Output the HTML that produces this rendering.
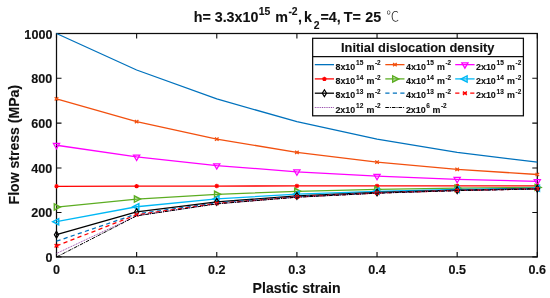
<!DOCTYPE html>
<html><head><meta charset="utf-8"><title>Flow stress vs plastic strain</title>
<style>html,body{margin:0;padding:0;background:#fff}svg{display:block}</style></head>
<body>
<svg width="550" height="298" viewBox="0 0 550 298">
<rect width="550" height="298" fill="#fff"/>
<rect x="56.5" y="33.5" width="480.80" height="223.40" fill="none" stroke="#0d0d0d" stroke-width="1.25"/>
<path d="M56.50 256.9v-5.0M56.50 33.5v5.0M136.63 256.9v-5.0M136.63 33.5v5.0M216.77 256.9v-5.0M216.77 33.5v5.0M296.90 256.9v-5.0M296.90 33.5v5.0M377.03 256.9v-5.0M377.03 33.5v5.0M457.17 256.9v-5.0M457.17 33.5v5.0M537.30 256.9v-5.0M537.30 33.5v5.0M56.5 256.90h5.0M537.3 256.90h-5.0M56.5 212.50h5.0M537.3 212.50h-5.0M56.5 168.00h5.0M537.3 168.00h-5.0M56.5 123.10h5.0M537.3 123.10h-5.0M56.5 78.20h5.0M537.3 78.20h-5.0M56.5 33.50h5.0M537.3 33.50h-5.0" stroke="#0d0d0d" stroke-width="1.1" fill="none"/>
<polyline points="56.50,33.50 136.63,70.02 216.77,98.96 296.90,121.62 377.03,139.11 457.17,152.36 537.30,162.21" fill="none" stroke="#0072BD" stroke-width="1.28" stroke-linejoin="round"/>
<polyline points="56.50,98.96 136.63,121.62 216.77,139.11 296.90,152.36 377.03,162.21 457.17,169.38 537.30,174.50" fill="none" stroke="#F2500F" stroke-width="1.28" stroke-linejoin="round"/>
<path d="M54.70 97.34L58.30 100.58M54.70 100.58L58.30 97.34" stroke="#F2500F" stroke-width="1.3" fill="none"/>
<path d="M134.83 120.00L138.43 123.24M134.83 123.24L138.43 120.00" stroke="#F2500F" stroke-width="1.3" fill="none"/>
<path d="M214.97 137.49L218.57 140.73M214.97 140.73L218.57 137.49" stroke="#F2500F" stroke-width="1.3" fill="none"/>
<path d="M295.10 150.74L298.70 153.98M295.10 153.98L298.70 150.74" stroke="#F2500F" stroke-width="1.3" fill="none"/>
<path d="M375.23 160.59L378.83 163.83M375.23 163.83L378.83 160.59" stroke="#F2500F" stroke-width="1.3" fill="none"/>
<path d="M455.37 167.76L458.97 171.00M455.37 171.00L458.97 167.76" stroke="#F2500F" stroke-width="1.3" fill="none"/>
<path d="M535.50 172.88L539.10 176.12M535.50 176.12L539.10 172.88" stroke="#F2500F" stroke-width="1.3" fill="none"/>
<polyline points="56.50,145.25 136.63,156.95 216.77,165.57 296.90,171.79 377.03,176.20 457.17,179.27 537.30,181.39" fill="none" stroke="#FF00FF" stroke-width="1.28" stroke-linejoin="round"/>
<path d="M53.40 143.45H59.60L56.50 148.75Z" stroke="#FF00FF" stroke-width="1.25" fill="none"/>
<path d="M133.53 155.15H139.73L136.63 160.45Z" stroke="#FF00FF" stroke-width="1.25" fill="none"/>
<path d="M213.67 163.77H219.87L216.77 169.07Z" stroke="#FF00FF" stroke-width="1.25" fill="none"/>
<path d="M293.80 169.99H300.00L296.90 175.29Z" stroke="#FF00FF" stroke-width="1.25" fill="none"/>
<path d="M373.93 174.40H380.13L377.03 179.70Z" stroke="#FF00FF" stroke-width="1.25" fill="none"/>
<path d="M454.07 177.47H460.27L457.17 182.77Z" stroke="#FF00FF" stroke-width="1.25" fill="none"/>
<path d="M534.20 179.59H540.40L537.30 184.89Z" stroke="#FF00FF" stroke-width="1.25" fill="none"/>
<polyline points="56.50,186.32 136.63,186.15 216.77,186.03 296.90,185.95 377.03,185.90 457.17,185.86 537.30,185.84" fill="none" stroke="#FF0000" stroke-width="1.28" stroke-linejoin="round"/>
<path d="M54.30 186.32H58.70M56.50 184.12V188.52M54.90 184.72L58.10 187.92M54.90 187.92L58.10 184.72" stroke="#FF0000" stroke-width="1.1" fill="none"/>
<path d="M134.43 186.15H138.83M136.63 183.95V188.35M135.03 184.55L138.23 187.75M135.03 187.75L138.23 184.55" stroke="#FF0000" stroke-width="1.1" fill="none"/>
<path d="M214.57 186.03H218.97M216.77 183.83V188.23M215.17 184.43L218.37 187.63M215.17 187.63L218.37 184.43" stroke="#FF0000" stroke-width="1.1" fill="none"/>
<path d="M294.70 185.95H299.10M296.90 183.75V188.15M295.30 184.35L298.50 187.55M295.30 187.55L298.50 184.35" stroke="#FF0000" stroke-width="1.1" fill="none"/>
<path d="M374.83 185.90H379.23M377.03 183.70V188.10M375.43 184.30L378.63 187.50M375.43 187.50L378.63 184.30" stroke="#FF0000" stroke-width="1.1" fill="none"/>
<path d="M454.97 185.86H459.37M457.17 183.66V188.06M455.57 184.26L458.77 187.46M455.57 187.46L458.77 184.26" stroke="#FF0000" stroke-width="1.1" fill="none"/>
<path d="M535.10 185.84H539.50M537.30 183.64V188.04M535.70 184.24L538.90 187.44M535.70 187.44L538.90 184.24" stroke="#FF0000" stroke-width="1.1" fill="none"/>
<polyline points="56.50,207.02 136.63,199.06 216.77,194.32 296.90,191.35 377.03,189.44 457.17,188.20 537.30,187.39" fill="none" stroke="#5CAD22" stroke-width="1.28" stroke-linejoin="round"/>
<path d="M54.30 203.97V210.07L60.30 207.02Z" stroke="#5CAD22" stroke-width="1.45" fill="none"/>
<path d="M134.43 196.01V202.11L140.43 199.06Z" stroke="#5CAD22" stroke-width="1.45" fill="none"/>
<path d="M214.57 191.27V197.37L220.57 194.32Z" stroke="#5CAD22" stroke-width="1.45" fill="none"/>
<path d="M294.70 188.30V194.40L300.70 191.35Z" stroke="#5CAD22" stroke-width="1.45" fill="none"/>
<path d="M374.83 186.39V192.49L380.83 189.44Z" stroke="#5CAD22" stroke-width="1.45" fill="none"/>
<path d="M454.97 185.15V191.25L460.97 188.20Z" stroke="#5CAD22" stroke-width="1.45" fill="none"/>
<path d="M535.10 184.34V190.44L541.10 187.39Z" stroke="#5CAD22" stroke-width="1.45" fill="none"/>
<polyline points="56.50,221.66 136.63,206.75 216.77,198.90 296.90,194.22 377.03,191.29 457.17,189.40 537.30,188.18" fill="none" stroke="#00B8F5" stroke-width="1.28" stroke-linejoin="round"/>
<path d="M58.70 218.61V224.71L52.70 221.66Z" stroke="#00B8F5" stroke-width="1.45" fill="none"/>
<path d="M138.83 203.70V209.80L132.83 206.75Z" stroke="#00B8F5" stroke-width="1.45" fill="none"/>
<path d="M218.97 195.85V201.95L212.97 198.90Z" stroke="#00B8F5" stroke-width="1.45" fill="none"/>
<path d="M299.10 191.17V197.27L293.10 194.22Z" stroke="#00B8F5" stroke-width="1.45" fill="none"/>
<path d="M379.23 188.24V194.34L373.23 191.29Z" stroke="#00B8F5" stroke-width="1.45" fill="none"/>
<path d="M459.37 186.35V192.45L453.37 189.40Z" stroke="#00B8F5" stroke-width="1.45" fill="none"/>
<path d="M539.50 185.13V191.23L533.50 188.18Z" stroke="#00B8F5" stroke-width="1.45" fill="none"/>
<polyline points="56.50,234.65 136.63,211.99 216.77,201.84 296.90,196.01 377.03,192.42 457.17,190.13 537.30,188.65" fill="none" stroke="#000000" stroke-width="1.28" stroke-linejoin="round"/>
<path d="M56.50 231.25L58.60 234.65L56.50 238.05L54.40 234.65Z" stroke="#000000" stroke-width="1.2" fill="none"/>
<path d="M136.63 208.59L138.73 211.99L136.63 215.39L134.53 211.99Z" stroke="#000000" stroke-width="1.2" fill="none"/>
<path d="M216.77 198.44L218.87 201.84L216.77 205.24L214.67 201.84Z" stroke="#000000" stroke-width="1.2" fill="none"/>
<path d="M296.90 192.61L299.00 196.01L296.90 199.41L294.80 196.01Z" stroke="#000000" stroke-width="1.2" fill="none"/>
<path d="M377.03 189.02L379.13 192.42L377.03 195.82L374.93 192.42Z" stroke="#000000" stroke-width="1.2" fill="none"/>
<path d="M457.17 186.73L459.27 190.13L457.17 193.53L455.07 190.13Z" stroke="#000000" stroke-width="1.2" fill="none"/>
<path d="M537.30 185.25L539.40 188.65L537.30 192.05L535.20 188.65Z" stroke="#000000" stroke-width="1.2" fill="none"/>
<polyline points="56.50,241.20 136.63,213.87 216.77,202.85 296.90,196.62 377.03,192.80 457.17,190.38 537.30,188.81" fill="none" stroke="#0072BD" stroke-width="1.28" stroke-dasharray="4.2,3.3" stroke-linejoin="round"/>
<polyline points="56.50,245.82 136.63,214.85 216.77,203.36 296.90,196.92 377.03,192.99 457.17,190.50 537.30,188.89" fill="none" stroke="#FF0000" stroke-width="1.28" stroke-dasharray="4.2,3.3" stroke-linejoin="round"/>
<path d="M54.60 244.11L58.40 247.53M54.60 247.53L58.40 244.11" stroke="#FF0000" stroke-width="1.4" fill="none"/>
<path d="M134.73 213.14L138.53 216.56M134.73 216.56L138.53 213.14" stroke="#FF0000" stroke-width="1.4" fill="none"/>
<path d="M214.87 201.65L218.67 205.07M214.87 205.07L218.67 201.65" stroke="#FF0000" stroke-width="1.4" fill="none"/>
<path d="M295.00 195.21L298.80 198.63M295.00 198.63L298.80 195.21" stroke="#FF0000" stroke-width="1.4" fill="none"/>
<path d="M375.13 191.28L378.93 194.70M375.13 194.70L378.93 191.28" stroke="#FF0000" stroke-width="1.4" fill="none"/>
<path d="M455.27 188.79L459.07 192.21M455.27 192.21L459.07 188.79" stroke="#FF0000" stroke-width="1.4" fill="none"/>
<path d="M535.40 187.18L539.20 190.60M535.40 190.60L539.20 187.18" stroke="#FF0000" stroke-width="1.4" fill="none"/>
<polyline points="56.50,253.47 136.63,215.75 216.77,203.83 296.90,197.20 377.03,193.16 457.17,190.61 537.30,188.96" fill="none" stroke="#8A35A0" stroke-width="0.9" stroke-dasharray="1,0.8" stroke-linejoin="round"/>
<polyline points="56.50,257.00 136.63,215.85 216.77,203.88 296.90,197.23 377.03,193.18 457.17,190.62 537.30,188.97" fill="none" stroke="#000000" stroke-width="1.0" stroke-dasharray="3.6,1,1,1" stroke-linejoin="round"/>
<rect x="312.65" y="38.3" width="210.75" height="77.50" fill="#fff" stroke="#0d0d0d" stroke-width="1.25"/>
<path d="M312.65 56.5H523.4" stroke="#0d0d0d" stroke-width="1.25"/>
<path d="M314.8 64.65H334.0" stroke="#0072BD" stroke-width="1.28" fill="none"/>
<path d="M385.3 64.65H404.5" stroke="#F2500F" stroke-width="1.28" fill="none"/>
<path d="M393.10 63.03L396.70 66.27M393.10 66.27L396.70 63.03" stroke="#F2500F" stroke-width="1.3" fill="none"/>
<path d="M455.2 64.65H474.6" stroke="#FF00FF" stroke-width="1.28" fill="none"/>
<path d="M461.80 62.85H468.00L464.90 68.15Z" stroke="#FF00FF" stroke-width="1.25" fill="none"/>
<path d="M314.8 78.9H334.0" stroke="#FF0000" stroke-width="1.28" fill="none"/>
<path d="M322.20 78.90H326.60M324.40 76.70V81.10M322.80 77.30L326.00 80.50M322.80 80.50L326.00 77.30" stroke="#FF0000" stroke-width="1.1" fill="none"/>
<path d="M385.3 78.9H404.5" stroke="#5CAD22" stroke-width="1.28" fill="none"/>
<path d="M392.70 75.85V81.95L398.70 78.90Z" stroke="#5CAD22" stroke-width="1.45" fill="none"/>
<path d="M455.2 78.9H474.6" stroke="#00B8F5" stroke-width="1.28" fill="none"/>
<path d="M467.10 75.85V81.95L461.10 78.90Z" stroke="#00B8F5" stroke-width="1.45" fill="none"/>
<path d="M314.8 93.2H334.0" stroke="#000000" stroke-width="1.28" fill="none"/>
<path d="M324.40 89.80L326.50 93.20L324.40 96.60L322.30 93.20Z" stroke="#000000" stroke-width="1.2" fill="none"/>
<path d="M385.3 93.2H404.5" stroke="#0072BD" stroke-width="1.28" stroke-dasharray="4.2,3.3" fill="none"/>
<path d="M455.2 93.2H474.6" stroke="#FF0000" stroke-width="1.28" stroke-dasharray="4.2,3.3" fill="none"/>
<path d="M463.00 91.49L466.80 94.91M463.00 94.91L466.80 91.49" stroke="#FF0000" stroke-width="1.4" fill="none"/>
<path d="M314.8 107.5H334.0" stroke="#8A35A0" stroke-width="0.9" stroke-dasharray="1,0.8" fill="none"/>
<path d="M385.3 107.5H404.5" stroke="#000000" stroke-width="1.0" stroke-dasharray="3.6,1,1,1" fill="none"/>
<text transform="translate(53.00,274.45) scale(1.2600,1.2400)" font-size="10" font-weight="bold" font-family="'Liberation Sans', sans-serif" fill="#111" stroke="#111" stroke-width="0.096" stroke-linejoin="round">0</text>
<text transform="translate(127.88,274.45) scale(1.2600,1.2400)" font-size="10" font-weight="bold" font-family="'Liberation Sans', sans-serif" fill="#111" stroke="#111" stroke-width="0.096" stroke-linejoin="round">0.1</text>
<text transform="translate(208.01,274.45) scale(1.2600,1.2400)" font-size="10" font-weight="bold" font-family="'Liberation Sans', sans-serif" fill="#111" stroke="#111" stroke-width="0.096" stroke-linejoin="round">0.2</text>
<text transform="translate(288.14,274.45) scale(1.2600,1.2400)" font-size="10" font-weight="bold" font-family="'Liberation Sans', sans-serif" fill="#111" stroke="#111" stroke-width="0.096" stroke-linejoin="round">0.3</text>
<text transform="translate(368.28,274.45) scale(1.2600,1.2400)" font-size="10" font-weight="bold" font-family="'Liberation Sans', sans-serif" fill="#111" stroke="#111" stroke-width="0.096" stroke-linejoin="round">0.4</text>
<text transform="translate(448.41,274.45) scale(1.2600,1.2400)" font-size="10" font-weight="bold" font-family="'Liberation Sans', sans-serif" fill="#111" stroke="#111" stroke-width="0.096" stroke-linejoin="round">0.5</text>
<text transform="translate(528.54,274.45) scale(1.2600,1.2400)" font-size="10" font-weight="bold" font-family="'Liberation Sans', sans-serif" fill="#111" stroke="#111" stroke-width="0.096" stroke-linejoin="round">0.6</text>
<text transform="translate(45.41,262.40) scale(1.2600,1.2400)" font-size="10" font-weight="bold" font-family="'Liberation Sans', sans-serif" fill="#111" stroke="#111" stroke-width="0.096" stroke-linejoin="round">0</text>
<text transform="translate(31.36,217.20) scale(1.2600,1.2400)" font-size="10" font-weight="bold" font-family="'Liberation Sans', sans-serif" fill="#111" stroke="#111" stroke-width="0.096" stroke-linejoin="round">200</text>
<text transform="translate(31.36,172.50) scale(1.2600,1.2400)" font-size="10" font-weight="bold" font-family="'Liberation Sans', sans-serif" fill="#111" stroke="#111" stroke-width="0.096" stroke-linejoin="round">400</text>
<text transform="translate(31.36,127.80) scale(1.2600,1.2400)" font-size="10" font-weight="bold" font-family="'Liberation Sans', sans-serif" fill="#111" stroke="#111" stroke-width="0.096" stroke-linejoin="round">600</text>
<text transform="translate(31.36,83.10) scale(1.2600,1.2400)" font-size="10" font-weight="bold" font-family="'Liberation Sans', sans-serif" fill="#111" stroke="#111" stroke-width="0.096" stroke-linejoin="round">800</text>
<text transform="translate(24.37,38.90) scale(1.2600,1.2400)" font-size="10" font-weight="bold" font-family="'Liberation Sans', sans-serif" fill="#111" stroke="#111" stroke-width="0.096" stroke-linejoin="round">1000</text>
<text transform="translate(252.62,292.50) scale(1.4150,1.4000)" font-size="10" font-weight="bold" font-family="'Liberation Sans', sans-serif" fill="#111" stroke="#111" stroke-width="0.085" stroke-linejoin="round">Plastic strain</text>
<text transform="translate(19.20,204.45) rotate(-90) scale(1.4070,1.4600)" font-size="10" font-weight="bold" font-family="'Liberation Sans', sans-serif" fill="#111" stroke="#111" stroke-width="0.084" stroke-linejoin="round">Flow stress (MPa)</text>
<text transform="translate(193.70,22.00) scale(1.4290,1.3900)" font-size="10" font-weight="bold" font-family="'Liberation Sans', sans-serif" fill="#111" stroke="#111" stroke-width="0.085" stroke-linejoin="round">h= 3.3x10</text>
<text transform="translate(258.82,15.10) scale(1.0400,1.0800)" font-size="10" font-weight="bold" font-family="'Liberation Sans', sans-serif" fill="#111" stroke="#111" stroke-width="0.113" stroke-linejoin="round">15</text>
<text transform="translate(275.17,22.00) scale(1.4290,1.3900)" font-size="10" font-weight="bold" font-family="'Liberation Sans', sans-serif" fill="#111" stroke="#111" stroke-width="0.085" stroke-linejoin="round">m</text>
<text transform="translate(288.38,15.10) scale(1.0400,1.0800)" font-size="10" font-weight="bold" font-family="'Liberation Sans', sans-serif" fill="#111" stroke="#111" stroke-width="0.113" stroke-linejoin="round">-2</text>
<text transform="translate(298.00,22.00) scale(1.4290,1.3900)" font-size="10" font-weight="bold" font-family="'Liberation Sans', sans-serif" fill="#111" stroke="#111" stroke-width="0.085" stroke-linejoin="round">,</text>
<text transform="translate(304.00,22.00) scale(1.4290,1.3900)" font-size="10" font-weight="bold" font-family="'Liberation Sans', sans-serif" fill="#111" stroke="#111" stroke-width="0.085" stroke-linejoin="round">k</text>
<text transform="translate(313.74,28.60) scale(1.0400,1.0800)" font-size="10" font-weight="bold" font-family="'Liberation Sans', sans-serif" fill="#111" stroke="#111" stroke-width="0.113" stroke-linejoin="round">2</text>
<text transform="translate(320.43,22.00) scale(1.4290,1.3900)" font-size="10" font-weight="bold" font-family="'Liberation Sans', sans-serif" fill="#111" stroke="#111" stroke-width="0.085" stroke-linejoin="round">=4,</text>
<text transform="translate(343.76,22.00) scale(1.4290,1.3900)" font-size="10" font-weight="bold" font-family="'Liberation Sans', sans-serif" fill="#111" stroke="#111" stroke-width="0.085" stroke-linejoin="round">T=</text>
<text transform="translate(365.30,22.00) scale(1.4290,1.3900)" font-size="10" font-weight="bold" font-family="'Liberation Sans', sans-serif" fill="#111" stroke="#111" stroke-width="0.085" stroke-linejoin="round">25</text>
<text transform="translate(386.13,21.10) scale(1.2900,1.3900)" font-size="10" font-weight="300" font-family="'Liberation Sans', 'Noto Sans CJK SC', sans-serif" fill="#222">℃</text>
<text transform="translate(340.96,52.45) scale(1.2860,1.2400)" font-size="10" font-weight="bold" font-family="'Liberation Sans', sans-serif" fill="#111" stroke="#111" stroke-width="0.095" stroke-linejoin="round">Initial dislocation density</text>
<text transform="translate(335.43,69.75) scale(0.8900,0.9300)" font-size="10" font-weight="bold" font-family="'Liberation Sans', sans-serif" fill="#111" stroke="#111" stroke-width="0.132" stroke-linejoin="round">8x10</text>
<text transform="translate(355.97,65.35) scale(0.6600,0.7300)" font-size="10" font-weight="bold" font-family="'Liberation Sans', sans-serif" fill="#111" stroke="#111" stroke-width="0.144" stroke-linejoin="round">15</text>
<text transform="translate(366.42,69.75) scale(0.8900,0.9300)" font-size="10" font-weight="bold" font-family="'Liberation Sans', sans-serif" fill="#111" stroke="#111" stroke-width="0.132" stroke-linejoin="round">m</text>
<text transform="translate(374.94,65.35) scale(0.6400,0.7300)" font-size="10" font-weight="bold" font-family="'Liberation Sans', sans-serif" fill="#111" stroke="#111" stroke-width="0.146" stroke-linejoin="round">-2</text>
<text transform="translate(406.07,69.75) scale(0.8900,0.9300)" font-size="10" font-weight="bold" font-family="'Liberation Sans', sans-serif" fill="#111" stroke="#111" stroke-width="0.132" stroke-linejoin="round">4x10</text>
<text transform="translate(426.47,65.35) scale(0.6600,0.7300)" font-size="10" font-weight="bold" font-family="'Liberation Sans', sans-serif" fill="#111" stroke="#111" stroke-width="0.144" stroke-linejoin="round">15</text>
<text transform="translate(436.92,69.75) scale(0.8900,0.9300)" font-size="10" font-weight="bold" font-family="'Liberation Sans', sans-serif" fill="#111" stroke="#111" stroke-width="0.132" stroke-linejoin="round">m</text>
<text transform="translate(445.44,65.35) scale(0.6400,0.7300)" font-size="10" font-weight="bold" font-family="'Liberation Sans', sans-serif" fill="#111" stroke="#111" stroke-width="0.146" stroke-linejoin="round">-2</text>
<text transform="translate(475.99,69.75) scale(0.8900,0.9300)" font-size="10" font-weight="bold" font-family="'Liberation Sans', sans-serif" fill="#111" stroke="#111" stroke-width="0.132" stroke-linejoin="round">2x10</text>
<text transform="translate(496.57,65.35) scale(0.6600,0.7300)" font-size="10" font-weight="bold" font-family="'Liberation Sans', sans-serif" fill="#111" stroke="#111" stroke-width="0.144" stroke-linejoin="round">15</text>
<text transform="translate(507.02,69.75) scale(0.8900,0.9300)" font-size="10" font-weight="bold" font-family="'Liberation Sans', sans-serif" fill="#111" stroke="#111" stroke-width="0.132" stroke-linejoin="round">m</text>
<text transform="translate(515.54,65.35) scale(0.6400,0.7300)" font-size="10" font-weight="bold" font-family="'Liberation Sans', sans-serif" fill="#111" stroke="#111" stroke-width="0.146" stroke-linejoin="round">-2</text>
<text transform="translate(335.43,84.00) scale(0.8900,0.9300)" font-size="10" font-weight="bold" font-family="'Liberation Sans', sans-serif" fill="#111" stroke="#111" stroke-width="0.132" stroke-linejoin="round">8x10</text>
<text transform="translate(355.97,79.60) scale(0.6600,0.7300)" font-size="10" font-weight="bold" font-family="'Liberation Sans', sans-serif" fill="#111" stroke="#111" stroke-width="0.144" stroke-linejoin="round">14</text>
<text transform="translate(366.42,84.00) scale(0.8900,0.9300)" font-size="10" font-weight="bold" font-family="'Liberation Sans', sans-serif" fill="#111" stroke="#111" stroke-width="0.132" stroke-linejoin="round">m</text>
<text transform="translate(374.94,79.60) scale(0.6400,0.7300)" font-size="10" font-weight="bold" font-family="'Liberation Sans', sans-serif" fill="#111" stroke="#111" stroke-width="0.146" stroke-linejoin="round">-2</text>
<text transform="translate(406.07,84.00) scale(0.8900,0.9300)" font-size="10" font-weight="bold" font-family="'Liberation Sans', sans-serif" fill="#111" stroke="#111" stroke-width="0.132" stroke-linejoin="round">4x10</text>
<text transform="translate(426.47,79.60) scale(0.6600,0.7300)" font-size="10" font-weight="bold" font-family="'Liberation Sans', sans-serif" fill="#111" stroke="#111" stroke-width="0.144" stroke-linejoin="round">14</text>
<text transform="translate(436.92,84.00) scale(0.8900,0.9300)" font-size="10" font-weight="bold" font-family="'Liberation Sans', sans-serif" fill="#111" stroke="#111" stroke-width="0.132" stroke-linejoin="round">m</text>
<text transform="translate(445.44,79.60) scale(0.6400,0.7300)" font-size="10" font-weight="bold" font-family="'Liberation Sans', sans-serif" fill="#111" stroke="#111" stroke-width="0.146" stroke-linejoin="round">-2</text>
<text transform="translate(475.99,84.00) scale(0.8900,0.9300)" font-size="10" font-weight="bold" font-family="'Liberation Sans', sans-serif" fill="#111" stroke="#111" stroke-width="0.132" stroke-linejoin="round">2x10</text>
<text transform="translate(496.57,79.60) scale(0.6600,0.7300)" font-size="10" font-weight="bold" font-family="'Liberation Sans', sans-serif" fill="#111" stroke="#111" stroke-width="0.144" stroke-linejoin="round">14</text>
<text transform="translate(507.02,84.00) scale(0.8900,0.9300)" font-size="10" font-weight="bold" font-family="'Liberation Sans', sans-serif" fill="#111" stroke="#111" stroke-width="0.132" stroke-linejoin="round">m</text>
<text transform="translate(515.54,79.60) scale(0.6400,0.7300)" font-size="10" font-weight="bold" font-family="'Liberation Sans', sans-serif" fill="#111" stroke="#111" stroke-width="0.146" stroke-linejoin="round">-2</text>
<text transform="translate(335.43,98.30) scale(0.8900,0.9300)" font-size="10" font-weight="bold" font-family="'Liberation Sans', sans-serif" fill="#111" stroke="#111" stroke-width="0.132" stroke-linejoin="round">8x10</text>
<text transform="translate(355.97,93.90) scale(0.6600,0.7300)" font-size="10" font-weight="bold" font-family="'Liberation Sans', sans-serif" fill="#111" stroke="#111" stroke-width="0.144" stroke-linejoin="round">13</text>
<text transform="translate(366.42,98.30) scale(0.8900,0.9300)" font-size="10" font-weight="bold" font-family="'Liberation Sans', sans-serif" fill="#111" stroke="#111" stroke-width="0.132" stroke-linejoin="round">m</text>
<text transform="translate(374.94,93.90) scale(0.6400,0.7300)" font-size="10" font-weight="bold" font-family="'Liberation Sans', sans-serif" fill="#111" stroke="#111" stroke-width="0.146" stroke-linejoin="round">-2</text>
<text transform="translate(406.07,98.30) scale(0.8900,0.9300)" font-size="10" font-weight="bold" font-family="'Liberation Sans', sans-serif" fill="#111" stroke="#111" stroke-width="0.132" stroke-linejoin="round">4x10</text>
<text transform="translate(426.47,93.90) scale(0.6600,0.7300)" font-size="10" font-weight="bold" font-family="'Liberation Sans', sans-serif" fill="#111" stroke="#111" stroke-width="0.144" stroke-linejoin="round">13</text>
<text transform="translate(436.92,98.30) scale(0.8900,0.9300)" font-size="10" font-weight="bold" font-family="'Liberation Sans', sans-serif" fill="#111" stroke="#111" stroke-width="0.132" stroke-linejoin="round">m</text>
<text transform="translate(445.44,93.90) scale(0.6400,0.7300)" font-size="10" font-weight="bold" font-family="'Liberation Sans', sans-serif" fill="#111" stroke="#111" stroke-width="0.146" stroke-linejoin="round">-2</text>
<text transform="translate(475.99,98.30) scale(0.8900,0.9300)" font-size="10" font-weight="bold" font-family="'Liberation Sans', sans-serif" fill="#111" stroke="#111" stroke-width="0.132" stroke-linejoin="round">2x10</text>
<text transform="translate(496.57,93.90) scale(0.6600,0.7300)" font-size="10" font-weight="bold" font-family="'Liberation Sans', sans-serif" fill="#111" stroke="#111" stroke-width="0.144" stroke-linejoin="round">13</text>
<text transform="translate(507.02,98.30) scale(0.8900,0.9300)" font-size="10" font-weight="bold" font-family="'Liberation Sans', sans-serif" fill="#111" stroke="#111" stroke-width="0.132" stroke-linejoin="round">m</text>
<text transform="translate(515.54,93.90) scale(0.6400,0.7300)" font-size="10" font-weight="bold" font-family="'Liberation Sans', sans-serif" fill="#111" stroke="#111" stroke-width="0.146" stroke-linejoin="round">-2</text>
<text transform="translate(335.39,112.60) scale(0.8900,0.9300)" font-size="10" font-weight="bold" font-family="'Liberation Sans', sans-serif" fill="#111" stroke="#111" stroke-width="0.132" stroke-linejoin="round">2x10</text>
<text transform="translate(355.97,108.20) scale(0.6600,0.7300)" font-size="10" font-weight="bold" font-family="'Liberation Sans', sans-serif" fill="#111" stroke="#111" stroke-width="0.144" stroke-linejoin="round">12</text>
<text transform="translate(366.42,112.60) scale(0.8900,0.9300)" font-size="10" font-weight="bold" font-family="'Liberation Sans', sans-serif" fill="#111" stroke="#111" stroke-width="0.132" stroke-linejoin="round">m</text>
<text transform="translate(374.94,108.20) scale(0.6400,0.7300)" font-size="10" font-weight="bold" font-family="'Liberation Sans', sans-serif" fill="#111" stroke="#111" stroke-width="0.146" stroke-linejoin="round">-2</text>
<text transform="translate(405.89,112.60) scale(0.8900,0.9300)" font-size="10" font-weight="bold" font-family="'Liberation Sans', sans-serif" fill="#111" stroke="#111" stroke-width="0.132" stroke-linejoin="round">2x10</text>
<text transform="translate(426.17,108.20) scale(0.6600,0.7300)" font-size="10" font-weight="bold" font-family="'Liberation Sans', sans-serif" fill="#111" stroke="#111" stroke-width="0.144" stroke-linejoin="round">6</text>
<text transform="translate(432.42,112.60) scale(0.8900,0.9300)" font-size="10" font-weight="bold" font-family="'Liberation Sans', sans-serif" fill="#111" stroke="#111" stroke-width="0.132" stroke-linejoin="round">m</text>
<text transform="translate(440.94,108.20) scale(0.6400,0.7300)" font-size="10" font-weight="bold" font-family="'Liberation Sans', sans-serif" fill="#111" stroke="#111" stroke-width="0.146" stroke-linejoin="round">-2</text>
</svg>
</body></html>
